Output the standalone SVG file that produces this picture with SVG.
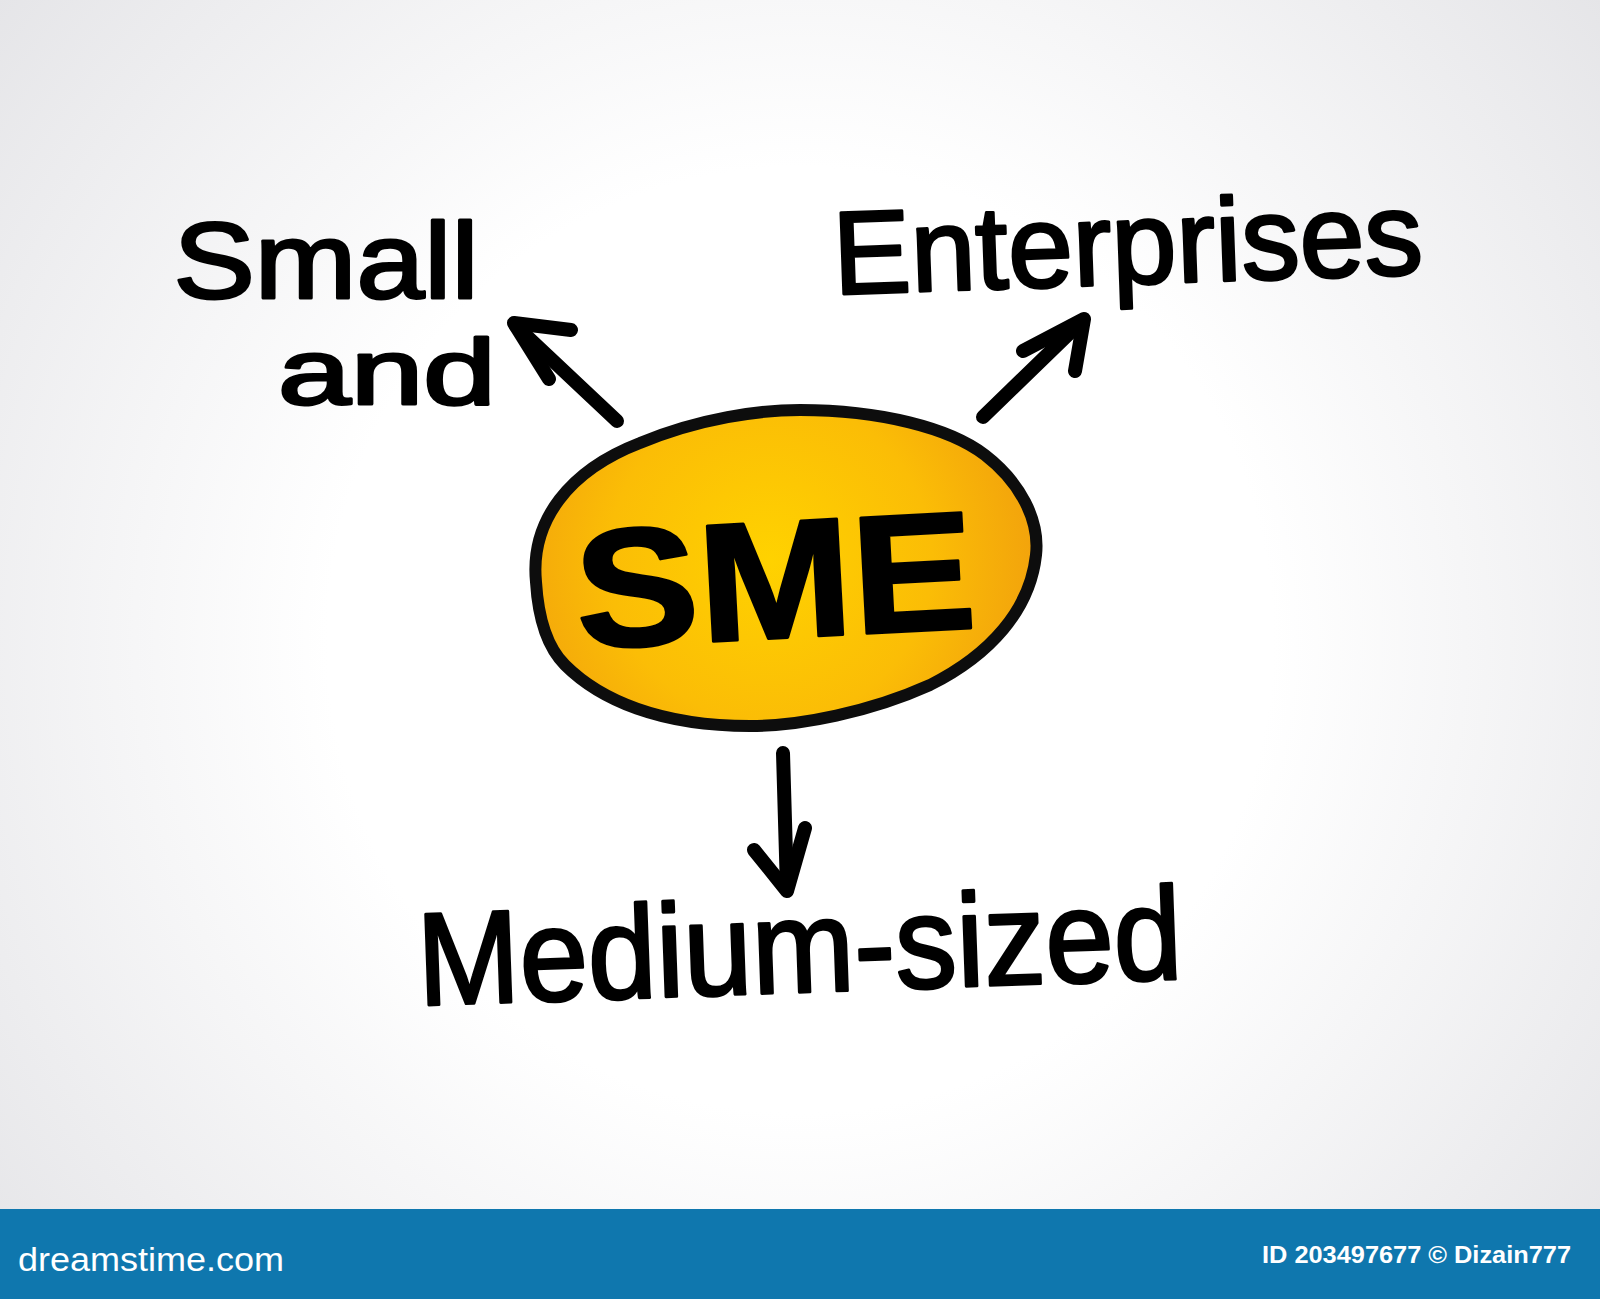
<svg xmlns="http://www.w3.org/2000/svg" width="1600" height="1299" viewBox="0 0 1600 1299">
  <defs>
    <radialGradient id="bg" gradientUnits="userSpaceOnUse" cx="800" cy="640" r="1050">
      <stop offset="0" stop-color="#ffffff"/>
      <stop offset="0.45" stop-color="#ffffff"/>
      <stop offset="1" stop-color="#e4e4e7"/>
    </radialGradient>
    <radialGradient id="fillSme" gradientUnits="userSpaceOnUse" cx="770" cy="560" r="270">
      <stop offset="0" stop-color="#ffd200"/>
      <stop offset="0.6" stop-color="#fbbd06"/>
      <stop offset="1" stop-color="#f2a20c"/>
    </radialGradient>
    <style>
      .hand { font-family: "Liberation Sans", Arial, sans-serif; fill: #000; stroke: #000; stroke-width: 3; stroke-linejoin: round; }
      .conn { fill: none; stroke: #000; stroke-width: 14; stroke-linecap: round; stroke-linejoin: round; }
      .foot { font-family: "Liberation Sans", Arial, sans-serif; fill: #fff; }
    </style>
  </defs>

  <rect x="0" y="0" width="1600" height="1299" fill="url(#bg)"/>

  <g id="connectors">
    <path class="conn" d="M617 421 L516 326"/>
    <path class="conn" d="M571 330 L514 323 L549 379"/>
    <path class="conn" d="M983 417 L1082 321"/>
    <path class="conn" d="M1023 351 L1084 319 L1075 371"/>
    <path class="conn" d="M783 753 L787 889"/>
    <path class="conn" d="M754 850 L787 891 L805 828"/>
  </g>

  <g id="node-sme">
    <path d="M536 582 C530 520 570 470 640 443 C700 418 760 410 800 410 C880 410 950 428 985 455 C1020 482 1040 520 1036 555 C1030 610 990 655 930 685 C870 712 800 726 750 726 C660 726 600 700 565 665 C545 645 538 615 536 582 Z" fill="url(#fillSme)" stroke="#0d0d0d" stroke-width="12" stroke-linejoin="round"/>
    <text class="hand" x="778" y="638" text-anchor="middle" font-size="168" font-weight="bold" textLength="400" lengthAdjust="spacingAndGlyphs" transform="rotate(-3 778 638)">SME</text>
  </g>

  <g id="node-small-and">
    <text class="hand" x="326" y="298" text-anchor="middle" font-size="108" textLength="305" lengthAdjust="spacingAndGlyphs">Small</text>
    <text class="hand" x="387" y="404" text-anchor="middle" font-size="92" textLength="218" lengthAdjust="spacingAndGlyphs">and</text>
  </g>

  <g id="node-enterprises">
    <text class="hand" x="1129" y="284" text-anchor="middle" font-size="118" textLength="590" lengthAdjust="spacingAndGlyphs" transform="rotate(-2 1129 284)">Enterprises</text>
  </g>

  <g id="node-medium-sized">
    <text class="hand" x="801" y="992" text-anchor="middle" font-size="132" textLength="765" lengthAdjust="spacingAndGlyphs" transform="rotate(-2 801 992)">Medium-sized</text>
  </g>

  <g id="footer">
    <rect x="0" y="1209" width="1600" height="90" fill="#0f77ae"/>
    <text class="foot" x="18" y="1271" font-size="33" textLength="266" lengthAdjust="spacingAndGlyphs">dreamstime.com</text>
    <text class="foot" x="1571" y="1263" font-size="24" font-weight="bold" text-anchor="end" textLength="309" lengthAdjust="spacingAndGlyphs">ID 203497677 © Dizain777</text>
  </g>
</svg>
